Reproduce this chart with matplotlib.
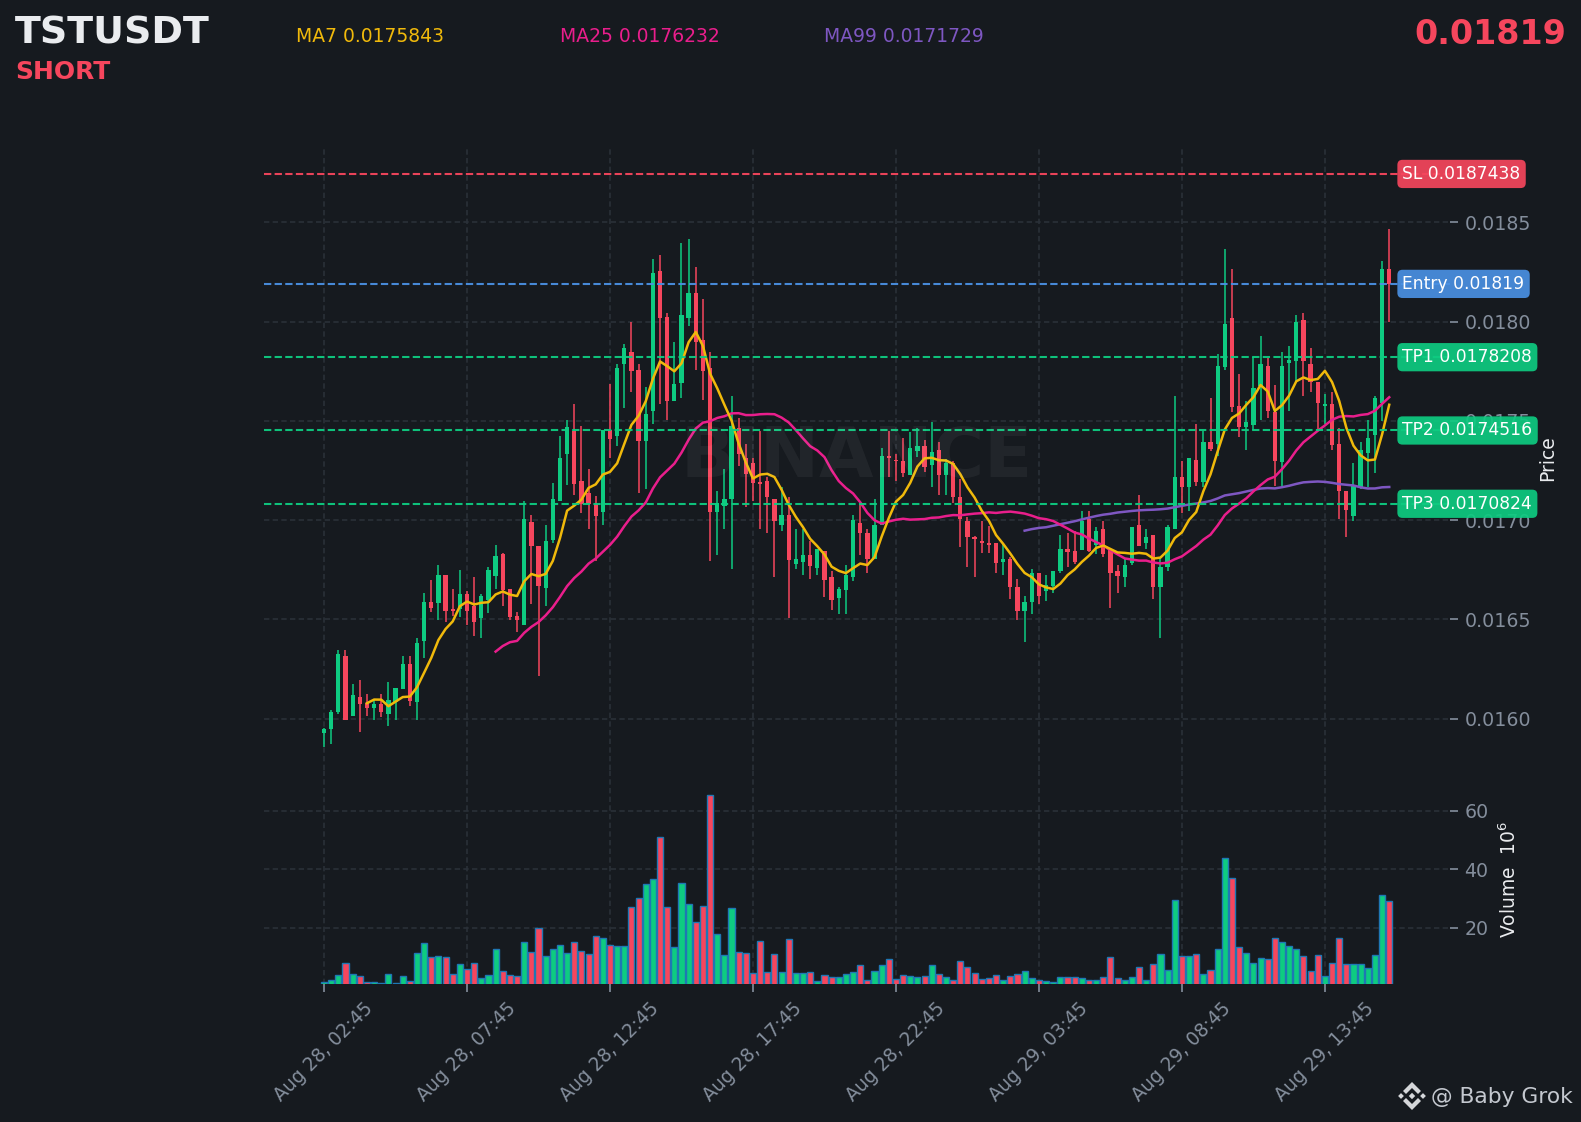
import matplotlib
matplotlib.use("Agg")
import matplotlib.pyplot as plt
from matplotlib.patches import Polygon
from matplotlib.transforms import blended_transform_factory
import numpy as np
import pandas as pd

W, H = 1581, 1122
BG = "#161a1f"
GREEN = "#0ecb81"
RED = "#f6465d"
GRID = "#2b3139"
MUTED = "#848e9c"

symbol = "TSTUSDT"
side = "SHORT"
last_price = "0.01819"
ma_labels = ["MA7 0.0175843", "MA25 0.0176232", "MA99 0.0171729"]
levels = [0.0187438, 0.01819, 0.0178208, 0.0174516, 0.0170824]
level_names = ["SL 0.0187438", "Entry 0.01819", "TP1 0.0178208", "TP2 0.0174516", "TP3 0.0170824"]
tick_labels = ["Aug 28, 02:45", "Aug 28, 07:45", "Aug 28, 12:45", "Aug 28, 17:45",
               "Aug 28, 22:45", "Aug 29, 03:45", "Aug 29, 08:45", "Aug 29, 13:45"]

# prices in millionths
opens = [15930,15950,16032,16318,16013,16107,16081,16052,16076,16022,
16083,16151,16277,16083,16393,16590,16585,16726,16552,16551,
16626,16570,16505,16599,16721,16827,16653,16519,16474,16989,
16868,16660,16900,17096,17331,17447,17199,17139,17082,17043,
17454,17423,17784,17849,17758,17401,17552,18257,18025,17602,
17693,18020,18146,17909,17768,17043,17073,17105,17466,17313,
17290,17190,17199,17108,16974,17028,16781,16791,16826,16761,
16846,16716,16610,16650,16712,16987,16937,16803,16976,17325,
17305,17300,17226,17350,17375,17276,17355,17226,17290,17118,
16997,16917,16897,16885,16885,16791,16806,16665,16544,16589,
16734,16641,16668,16742,16856,16846,16848,17006,16877,16957,
16850,16746,16712,16783,16977,16883,16927,16662,16763,16954,
17219,17166,17303,17194,17396,17384,17773,18020,17577,17471,
17481,17677,17778,17547,17295,17794,17804,18010,17787,17698,
17574,17587,17386,17149,17023,17166,17340,17431,17592,18267]
closes = [15947,16035,16328,15993,16117,16073,16052,16076,16032,16096,
16156,16277,16091,16379,16590,16556,16726,16544,16544,16626,
16544,16486,16616,16747,16817,16650,16514,16495,17007,16871,
16670,16897,17109,17315,17467,17184,17082,17082,17023,17454,
17411,17768,17869,17753,17401,17537,18247,18020,17602,17688,
18035,18146,17896,17753,17043,17088,17108,17476,17333,17233,
17186,17183,17115,16994,17028,16801,16806,16826,16771,16855,
16700,16600,16655,16725,17000,16934,16803,16977,17325,17312,
17300,17236,17365,17375,17266,17345,17226,17290,17115,17004,
16913,16903,16883,16873,16783,16804,16662,16544,16589,16734,
16620,16675,16746,16856,16841,16791,16997,16843,16947,16831,
16732,16720,16776,16967,16872,16917,16662,16766,16967,17219,
17166,17313,17194,17396,17360,17778,17990,17572,17471,17496,
17668,17789,17552,17300,17778,17809,18000,17804,17695,17592,
17587,17381,17145,17053,17171,17355,17416,17617,18267,18190]
highs = [15955,16045,16347,16347,16176,16197,16125,16100,16125,16185,
16156,16316,16316,16406,16633,16696,16776,16726,16653,16747,
16641,16713,16628,16764,16875,16835,16653,16537,17096,17028,
16868,16977,17189,17424,17504,17586,17473,17258,17124,17454,
17686,17787,17888,17997,17787,17669,18316,18336,18042,17898,
18396,18417,18277,18114,17846,17149,17258,17624,17515,17384,
17313,17451,17216,17108,17166,17115,16956,16956,16897,16855,
16846,16742,16665,16776,17026,17081,16955,17107,17363,17448,
17333,17414,17442,17464,17404,17493,17392,17308,17300,17207,
17014,16922,16997,16972,16885,16880,16813,16704,16620,16754,
16734,16725,16746,16925,16935,16944,17048,17048,16967,16997,
16850,16774,16809,16967,17127,16956,16927,16813,16977,17624,
17297,17313,17485,17451,17616,17837,18366,18265,17737,17602,
17820,17926,17817,17683,17847,17878,18034,18044,17868,17698,
17636,17644,17464,17149,17288,17392,17505,17627,18307,18467]
lows = [15856,15873,16023,15993,16013,15931,16015,15993,16006,15964,
15994,16151,16062,15993,16304,16537,16497,16486,16517,16514,
16474,16415,16405,16534,16653,16568,16497,16435,16474,16577,
16214,16568,16883,17096,17178,17126,17035,16956,16796,16976,
17313,17372,17565,17644,17135,17155,17485,17585,17505,17602,
17616,17978,17757,17606,16796,16825,16956,16754,17275,17065,
17095,16956,16936,16712,16947,16507,16754,16724,16704,16724,
16611,16548,16527,16527,16695,16824,16736,16803,16976,17216,
17196,17216,17226,17316,17241,17165,17125,17125,17086,16863,
16762,16712,16833,16833,16734,16724,16603,16497,16384,16527,
16578,16594,16631,16732,16762,16779,16848,16838,16830,16813,
16558,16632,16662,16774,16872,16855,16603,16407,16742,16954,
17035,17045,17174,17166,17350,17325,17757,17543,17421,17354,
17454,17505,17515,17174,17174,17552,17703,17624,17644,17459,
17485,17354,17006,16914,16994,17157,17169,17236,17501,17997]
volumes = [1.5,2.2,3.9,8.0,4.2,3.5,1.5,1.5,1.1,4.2,
0.9,3.5,1.8,11.4,14.9,10.1,10.4,10.1,4.2,7.7,
5.9,8.0,2.9,3.9,12.8,5.3,3.9,3.5,15.2,11.8,
20.0,10.4,12.8,14.2,11.4,15.2,12.1,11.1,17.3,16.6,
14.2,13.8,13.8,27.2,30.3,35.1,36.8,51.2,27.2,13.5,
35.4,28.2,22.1,27.5,65.6,17.9,10.7,26.9,11.8,11.4,
4.6,15.5,4.9,11.1,4.9,16.2,4.6,4.6,4.9,1.8,
3.9,3.2,3.2,4.2,4.9,7.3,2.2,5.3,7.3,9.4,
2.5,3.9,3.5,3.2,3.5,7.3,4.2,3.2,2.2,8.7,
6.6,4.6,2.5,2.9,3.9,2.2,3.5,4.2,5.3,2.9,
2.2,1.8,1.5,3.2,3.2,3.2,2.9,2.2,2.2,3.2,
10.1,2.9,2.2,3.2,6.6,2.2,7.7,11.1,5.6,29.6,
10.4,10.4,11.1,4.2,5.6,12.8,43.7,37.1,13.5,11.4,
8.0,9.7,9.4,16.6,15.2,13.8,12.8,10.4,5.3,10.7,
3.5,8.0,16.6,7.7,7.7,7.7,6.3,10.7,31.3,29.3]

o = np.array(opens) / 1e6
c = np.array(closes) / 1e6
h = np.array(highs) / 1e6
l = np.array(lows) / 1e6
v = np.array(volumes)
x = np.arange(len(o))
colors = [GREEN if ci >= oi else RED for oi, ci in zip(o, c)]

plt.rcParams["font.family"] = "DejaVu Sans"
fig = plt.figure(figsize=(W / 100, H / 100), dpi=100, facecolor=BG)

def axes_px(left, top, right, bottom):
    return fig.add_axes([left / W, 1 - bottom / H, (right - left) / W, (bottom - top) / H], facecolor=BG)

ax = axes_px(264, 147, 1450, 770)
axv = axes_px(264, 770, 1450, 984)

xlim = (-8.4, 157.5)
for a in (ax, axv):
    a.set_xlim(*xlim)
    for s in a.spines.values():
        s.set_visible(False)
    a.grid(True, color=GRID, linestyle=(0, (3.2, 2)), linewidth=1.2, alpha=0.95)
    a.set_axisbelow(True)
    a.yaxis.tick_right()
    a.set_xticks(np.arange(0, 150, 20))
    a.tick_params(axis="both", colors=MUTED, labelsize=13.7, length=6, width=1.2, color=MUTED, pad=4.5)

ax.set_ylim(0.0157415, 0.0188795)
ax.set_yticks([0.0160, 0.0165, 0.0170, 0.0175, 0.0180, 0.0185])
ax.set_yticklabels(["0.0160", "0.0165", "0.0170", "0.0175", "0.0180", "0.0185"])
ax.tick_params(axis="x", length=0, labelbottom=False)

# candles
ax.vlines(x, l, h, colors=colors, linewidth=1.1, zorder=3)
ax.bar(x, np.maximum(np.abs(c - o), 4e-6), bottom=np.minimum(o, c), width=0.6, color=colors, linewidth=0, zorder=4)

# moving averages from the closes
cs = pd.Series(c)
for n, col in ((99, "#7e57c2"), (25, "#e91e8c"), (7, "#f0b90b")):
    ax.plot(x, cs.rolling(n).mean(), color=col, linewidth=1.8, zorder=5)

# trade levels
level_colors = [RED, "#4a90e2", GREEN, GREEN, GREEN]
label_tr = blended_transform_factory(fig.transFigure, ax.transData)
for lv, name, col in zip(levels, level_names, level_colors):
    ax.axhline(lv, color=col, linestyle=(0, (3.5, 1.6)), linewidth=1.5, zorder=6, alpha=0.95)
    ax.text(1402.5 / W, lv, name, transform=label_tr, va="center", ha="left", color="white",
            fontsize=12.3, zorder=20, clip_on=False,
            bbox=dict(boxstyle="round,pad=0.3", fc=col, ec="none", alpha=0.92))

fig.text(857 / W, 1 - 458 / H, "BINANCE", color="#ffffff", alpha=0.05, fontsize=50.7,
         fontweight="bold", ha="center", va="center", zorder=1)

# volume
axv.bar(x, v, width=0.85, color=colors, edgecolor="#1f77b4", linewidth=1.0, zorder=3)
axv.set_ylim(0.7, 74)
axv.set_yticks([20, 40, 60])
axv.set_xticklabels(tick_labels, rotation=45, ha="center", color=MUTED, fontsize=13.4)

fig.text(1548 / W, 1 - 458 / H, "Price", color="#eaecef", rotation=90, fontsize=13.5, ha="center", va="center")
fig.text(1509 / W, 1 - 880 / H, r"Volume  $10^6$", color="#eaecef", rotation=90, fontsize=13.5, ha="center", va="center")

# header
fig.text(15 / W, 1 - 33 / H, symbol, color="#eaecef", fontsize=27.4, fontweight="bold", va="center", ha="left")
fig.text(15 / W, 1 - 72 / H, side, color=RED, fontsize=18, fontweight="bold", va="center", ha="left")
for px, lab, col in zip((296, 560, 824), ma_labels, ("#f0b90b", "#e91e8c", "#7e57c2")):
    fig.text(px / W, 1 - 37 / H, lab, color=col, fontsize=13.5, va="center", ha="left")
fig.text(1566 / W, 1 - 34 / H, last_price, color=RED, fontsize=24, fontweight="bold", va="center", ha="right")

# footer
fig.text(1431 / W, 1 - 1097 / H, "@ Baby Grok", color="#c4c8cf", fontsize=15.7, va="center", ha="left")
logo_cx, logo_cy = 1412, 1096
def diamond(cx, cy, r):
    pts = [(cx - r, cy), (cx, cy - r), (cx + r, cy), (cx, cy + r)]
    return Polygon([(a / W, 1 - b / H) for a, b in pts], closed=True, transform=fig.transFigure,
                   fc="#d5d7da", ec="none")
for dx, r in ((0, 3.2), (-11, 2.9), (11, 2.9)):
    fig.add_artist(diamond(logo_cx + dx, logo_cy, r))
def chevron(sign):
    pts = [(logo_cx - 9, logo_cy + sign * 5), (logo_cx, logo_cy + sign * 14), (logo_cx + 9, logo_cy + sign * 5),
           (logo_cx + 6, logo_cy + sign * 2), (logo_cx, logo_cy + sign * 8), (logo_cx - 6, logo_cy + sign * 2)]
    return Polygon([(a / W, 1 - b / H) for a, b in pts], closed=True, transform=fig.transFigure,
                   fc="#d5d7da", ec="none")
fig.add_artist(chevron(-1))
fig.add_artist(chevron(1))

fig.savefig("out.png", dpi=100, facecolor=BG)
